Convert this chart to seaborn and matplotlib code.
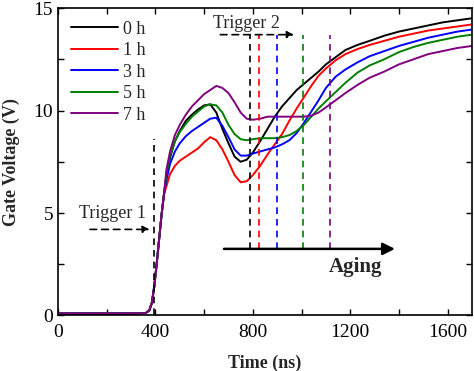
import numpy as np
import pandas as pd
import matplotlib
matplotlib.use('Agg')
import matplotlib.pyplot as plt
from matplotlib.ticker import MultipleLocator
import seaborn as sns

# Data
time_ns = [0, 100, 200, 300, 360, 375, 385, 395, 405, 415, 425, 435, 445, 460, 480, 500, 525,
           550, 575, 600, 625, 650, 675, 700, 725, 750, 775, 800, 830, 860, 890, 920, 950, 980,
           1010, 1040, 1070, 1100, 1140, 1180, 1230, 1280, 1340, 1400, 1460, 1520, 1580, 1640, 1700]
rise = [0.1, 0.1, 0.1, 0.1, 0.12, 0.25, 0.6, 1.4, 2.5, 3.7, 4.9, 5.9]
v_0h = rise + [6.8, 7.7, 8.5, 9.0, 9.5, 9.8, 10.05, 10.25, 10.3, 9.9, 9.1, 8.4, 7.75, 7.5, 7.6,
               7.95, 8.5, 9.1, 9.7, 10.2, 10.6, 11.0, 11.3, 11.6, 11.9, 12.25, 12.6, 12.95, 13.2,
               13.4, 13.65, 13.85, 14.0, 14.15, 14.3, 14.4, 14.5]
v_1h = rise + [6.3, 6.9, 7.3, 7.55, 7.75, 7.95, 8.15, 8.45, 8.7, 8.55, 8.1, 7.5, 6.85, 6.5, 6.55,
               6.85, 7.3, 7.85, 8.35, 8.85, 9.5, 10.1, 10.65, 11.2, 11.7, 12.05, 12.45, 12.75, 13.0,
               13.2, 13.4, 13.6, 13.75, 13.9, 14.0, 14.1, 14.2]
v_3h = rise + [6.6, 7.4, 8.0, 8.4, 8.75, 9.0, 9.2, 9.4, 9.6, 9.65, 9.25, 8.7, 8.1, 7.8, 7.8,
               7.9, 8.0, 8.1, 8.2, 8.35, 8.55, 8.9, 9.4, 9.95, 10.5, 11.1, 11.65, 12.0, 12.35,
               12.65, 12.9, 13.15, 13.35, 13.55, 13.7, 13.85, 13.95]
v_5h = rise + [6.9, 7.8, 8.5, 8.95, 9.35, 9.7, 9.95, 10.2, 10.3, 10.25, 9.9, 9.3, 8.85, 8.6, 8.55,
               8.6, 8.65, 8.65, 8.65, 8.7, 8.8, 9.0, 9.3, 9.7, 10.1, 10.45, 10.9, 11.35, 11.85,
               12.2, 12.5, 12.85, 13.1, 13.3, 13.45, 13.6, 13.7]
v_7h = rise + [7.1, 8.0, 8.8, 9.3, 9.8, 10.2, 10.5, 10.8, 11.0, 11.2, 11.1, 10.85, 10.4, 9.9, 9.6,
               9.55, 9.6, 9.7, 9.7, 9.7, 9.7, 9.7, 9.7, 9.75, 9.9, 10.15, 10.5, 10.85, 11.25,
               11.6, 11.9, 12.25, 12.5, 12.75, 12.9, 13.05, 13.15]
labels = ['0 h', '1 h', '3 h', '5 h', '7 h']
colors = ['black', 'red', 'blue', 'green', 'purple']
trigger2_ns = [790, 825, 900, 1005, 1115]

df = pd.DataFrame({'Time': time_ns * 5,
                   'Voltage': v_0h + v_1h + v_3h + v_5h + v_7h,
                   'Aging': np.repeat(labels, len(time_ns))})

sns.set_theme(style='ticks')
plt.rcParams['font.family'] = ['Liberation Serif', 'DejaVu Serif']

fig = plt.figure(figsize=(4.74, 3.71), dpi=100)
ax = fig.add_axes([0.1224, 0.1496, 0.8734, 0.8288])

sns.lineplot(data=df, x='Time', y='Voltage', hue='Aging', palette=colors,
             linewidth=1.4, ax=ax)

# trigger markers
ax.plot([395, 395], [0, 8.6], color='black', linestyle=(0, (4, 3)), linewidth=1.2)
ax.annotate('', xy=(388, 4.2), xytext=(120, 4.2),
            arrowprops=dict(arrowstyle='-|>', color='black', linestyle=(0, (4, 3)),
                            linewidth=1.2, mutation_scale=10))
ax.text(222, 5.0, 'Trigger 1', fontsize=13, ha='center', va='center')

for t, c in zip(trigger2_ns, colors):
    ax.plot([t, t], [3.25, 13.7], color=c, linestyle=(0, (4, 3)), linewidth=1.2)
ax.annotate('', xy=(980, 13.7), xytext=(655, 13.7),
            arrowprops=dict(arrowstyle='-|>', color='black', linestyle=(0, (4, 3)),
                            linewidth=1.2, mutation_scale=10))
ax.text(775, 14.25, 'Trigger 2', fontsize=13, ha='center', va='center')

ax.annotate('', xy=(1395, 3.25), xytext=(670, 3.25),
            arrowprops=dict(arrowstyle='-|>', color='black', linewidth=1.8,
                            mutation_scale=18))
ax.text(1220, 2.35, 'Aging', fontsize=15, fontweight='bold', ha='center', va='center')

ax.set_xlim(0, 1700)
ax.set_ylim(0, 15)
ax.xaxis.set_major_locator(MultipleLocator(400))
ax.xaxis.set_minor_locator(MultipleLocator(200))
ax.yaxis.set_major_locator(MultipleLocator(5))
ax.yaxis.set_minor_locator(MultipleLocator(2.5))
ax.tick_params(which='both', direction='in', top=True, right=True, length=4,
               width=1, labelsize=14, colors='black')
ax.tick_params(axis='x', pad=6)
ax.set_xlabel('Time (ns)', fontsize=13, fontweight='bold', labelpad=10)
ax.set_ylabel('Gate Voltage (V)', fontsize=13, fontweight='bold', labelpad=10)
for s in ax.spines.values():
    s.set_linewidth(1.2)
    s.set_color('black')

ax.legend(loc='upper left', frameon=False, fontsize=13, handlelength=2.6,
          handletextpad=0.3, labelspacing=0.25, borderaxespad=0.3)

fig.savefig('out.png', dpi=100)
